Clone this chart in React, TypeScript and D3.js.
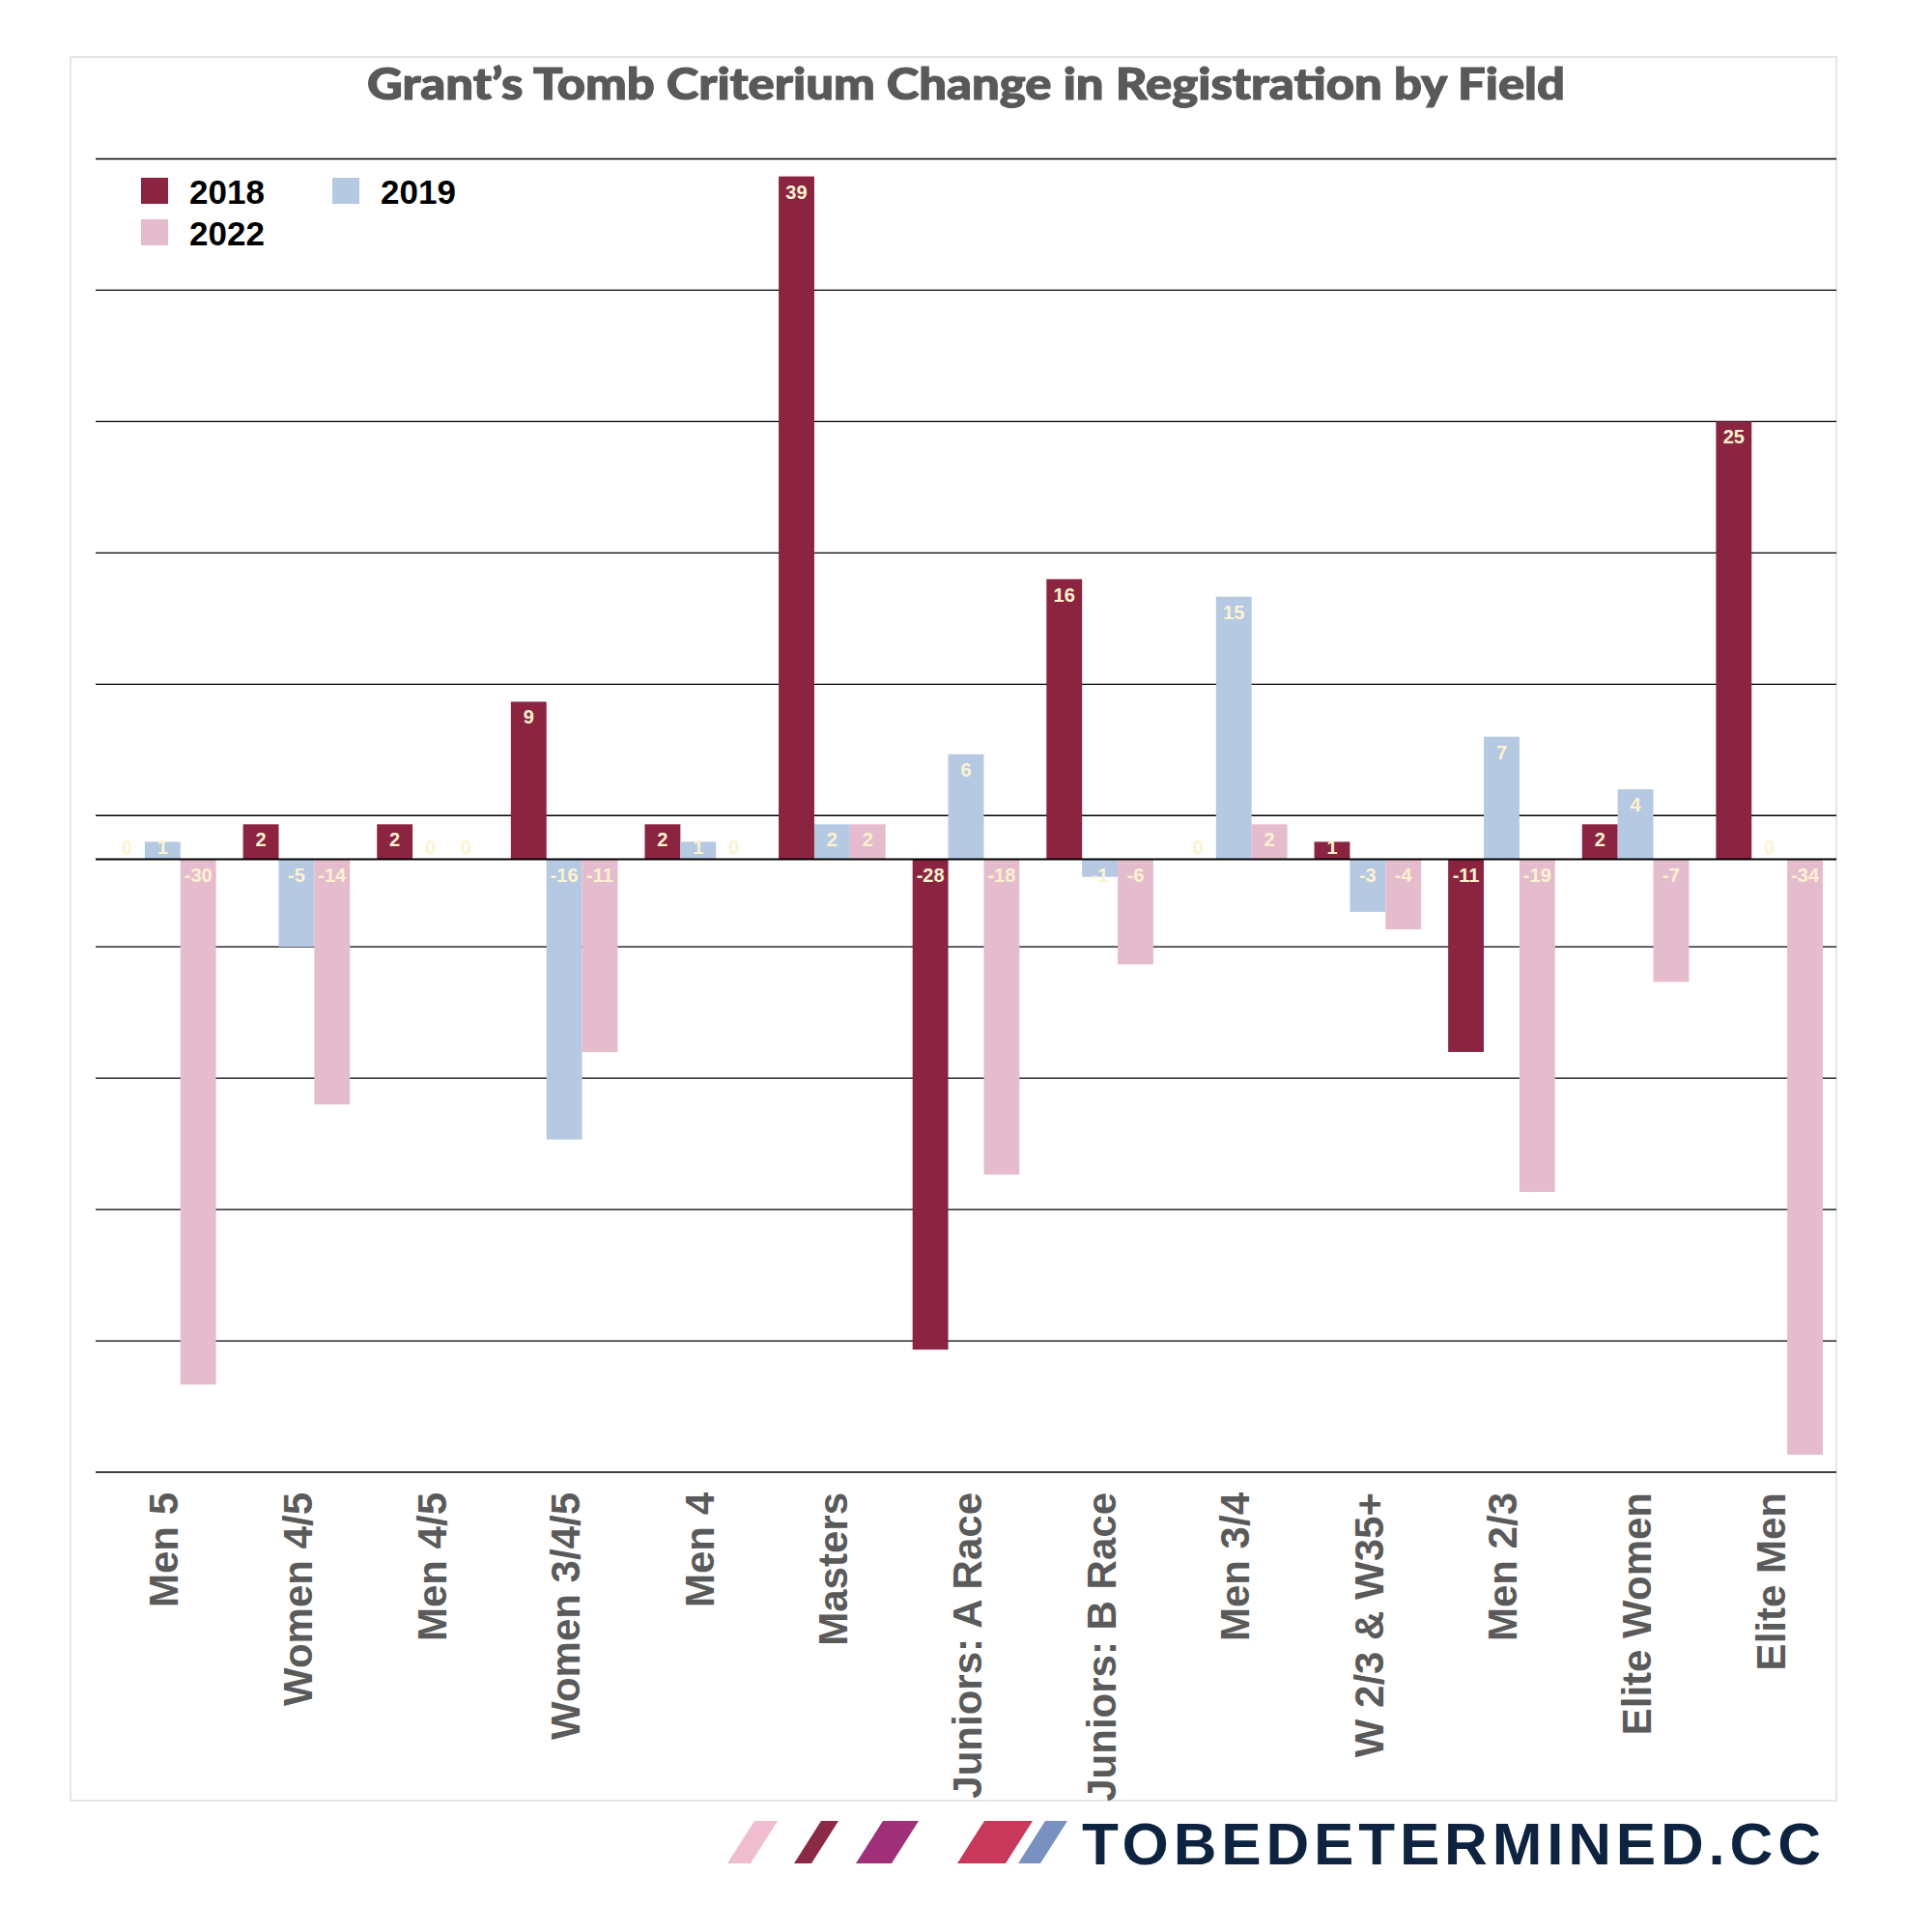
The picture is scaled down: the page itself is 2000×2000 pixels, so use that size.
import * as d3 from 'd3';

const categories = [
  'Men 5', 'Women 4/5', 'Men 4/5', 'Women 3/4/5', 'Men 4', 'Masters',
  'Juniors: A Race', 'Juniors: B Race', 'Men 3/4', 'W 2/3 & W35+', 'Men 2/3',
  'Elite Women', 'Elite Men',
];
const seriesNames = ['2018', '2019', '2022'];
const values2018 = [0, 2, 2, 9, 2, 39, -28, 16, 0, 1, -11, 2, 25];
const values2019 = [1, -5, 0, -16, 1, 2, 6, -1, 15, -3, 7, 4, 0];
const values2022 = [-30, -14, 0, -11, 0, 2, -18, -6, 2, -4, -19, -7, -34];
const yTicks = [-35, -27.5, -20, -12.5, -5, 2.5, 10, 17.5, 25, 32.5, 40];

const colors = ['#8a2441', '#b5c9e3', '#e5bccd'];
const seriesValues = [values2018, values2019, values2022];

const W = 2000;
const H = 2000;
const plot = { left: 99, right: 1901, top: 164.5, bottom: 1524 };

export default function App() {
  const x0 = d3.scaleBand<string>().domain(categories).range([plot.left, plot.right]);
  const bw = x0.bandwidth();
  const x1 = d3.scaleBand<string>().domain(seriesNames).range([14, bw - 14]);
  const y = d3.scaleLinear().domain([-35, 40]).range([plot.bottom, plot.top]);
  const y0 = y(0);

  const labelY = (v: number) => {
    if (v > 0) return Math.min(y(v) + 23, y0 - 6);
    if (v === 0) return y0 - 6;
    return y0 + 23;
  };

  // logo slashes: bottom edge / top edge x-ranges
  const slashes = [
    { c: '#f0bdd0', b: [753, 777], t: [781, 805] },
    { c: '#8b2a45', b: [822, 840], t: [850, 868] },
    { c: '#9e2f78', b: [886, 923], t: [914, 951] },
    { c: '#c8385a', b: [991, 1041], t: [1019, 1069] },
    { c: '#7891c0', b: [1054, 1077], t: [1082, 1105] },
  ];

  return (
    <svg
      width={W}
      height={H}
      style={{ position: 'absolute', left: 0, top: 0, background: '#fff' }}
      fontFamily="'Liberation Sans', Arial, sans-serif"
    >
      <rect x={0} y={0} width={W} height={H} fill="#fff" />
      <rect x={73} y={59} width={1828} height={1805} fill="none" stroke="#dedede" strokeWidth={1.5} />

      <text
        x={1000}
        y={103}
        textAnchor="middle"
        fontFamily="Lato, 'DejaVu Sans', sans-serif"
        fontWeight={900}
        fontSize={46}
        fill="#595959"
        stroke="#595959"
        strokeWidth={1.2}
        textLength={1240}
        lengthAdjust="spacingAndGlyphs"
      >
        Grant’s Tomb Criterium Change in Registration by Field
      </text>

      {/* grid */}
      {yTicks.map((t) => (
        <line key={t} x1={plot.left} x2={plot.right} y1={y(t)} y2={y(t)} stroke="#000" strokeWidth={1.3} />
      ))}

      {/* bars */}
      {categories.map((cat, ci) => (
        <g key={cat} transform={`translate(${x0(cat)},0)`}>
          {seriesNames.map((s, si) => {
            const v = seriesValues[si][ci];
            if (v === 0) return null;
            return (
              <rect
                key={s}
                x={x1(s)}
                y={y(Math.max(0, v))}
                width={x1.bandwidth()}
                height={Math.abs(y(v) - y0)}
                fill={colors[si]}
              />
            );
          })}
        </g>
      ))}

      <line x1={plot.left} x2={plot.right} y1={y0} y2={y0} stroke="#000" strokeWidth={2} />

      {/* value labels */}
      {categories.map((cat, ci) => (
        <g key={cat} transform={`translate(${x0(cat)},0)`}>
          {seriesNames.map((s, si) => {
            const v = seriesValues[si][ci];
            return (
              <text
                key={s}
                x={(x1(s) || 0) + x1.bandwidth() / 2}
                y={labelY(v)}
                textAnchor="middle"
                fontWeight="bold"
                fontSize={20}
                fill="#fdf2cf"
              >
                {v}
              </text>
            );
          })}
        </g>
      ))}

      {/* category labels */}
      {categories.map((cat) => {
        const cx = (x0(cat) || 0) + bw / 2 + 16;
        return (
          <text
            key={cat}
            transform={`translate(${cx},1545) rotate(-90)`}
            textAnchor="end"
            fontWeight="bold"
            fontSize={42}
            fill="#5a5a5a"
          >
            {cat}
          </text>
        );
      })}

      {/* legend */}
      {seriesNames.map((s, i) => {
        const lx = i === 1 ? 344 : 146;
        const ly = i === 2 ? 227 : 184;
        return (
          <g key={s}>
            <rect x={lx} y={ly} width={28} height={27} fill={colors[i]} />
            <text x={lx + 50} y={ly + 27} fontWeight="bold" fontSize={35} fill="#000">
              {s}
            </text>
          </g>
        );
      })}

      {/* logo */}
      {slashes.map((sl, i) => (
        <polygon
          key={i}
          points={`${sl.b[0]},1929 ${sl.b[1]},1929 ${sl.t[1]},1885 ${sl.t[0]},1885`}
          fill={sl.c}
        />
      ))}
      <text
        x={1120}
        y={1930}
        fontWeight="bold"
        fontSize={62}
        fill="#0d2340"
        textLength={765}
        lengthAdjust="spacing"
      >
        TOBEDETERMINED.CC
      </text>
    </svg>
  );
}
